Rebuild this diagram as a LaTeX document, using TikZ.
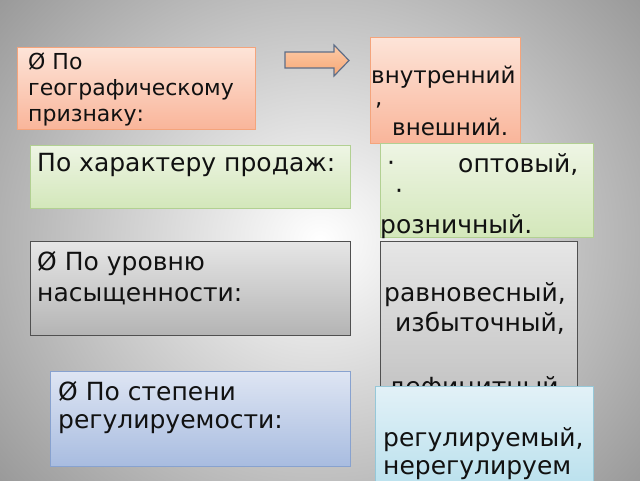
\documentclass[tikz,border=0pt]{standalone}
\usepackage{fontspec}
\setmainfont{DejaVu Sans}
\definecolor{orT}{HTML}{FDE4D8}
\definecolor{orB}{HTML}{F9B59A}
\definecolor{orD}{HTML}{F4A47C}
\definecolor{grT}{HTML}{EEF5E4}
\definecolor{grB}{HTML}{D3E7BA}
\definecolor{grD}{HTML}{B2D092}
\definecolor{gyT}{HTML}{E6E6E6}
\definecolor{gyB}{HTML}{B4B4B4}
\definecolor{gyD}{HTML}{505050}
\definecolor{blT}{HTML}{DEE5F3}
\definecolor{blB}{HTML}{A8BCE0}
\definecolor{blD}{HTML}{88A2CF}
\definecolor{cyT}{HTML}{E2F1F7}
\definecolor{cyB}{HTML}{B6DFEC}
\definecolor{cyD}{HTML}{96C8D8}
\definecolor{arT}{HTML}{FCCBA8}
\definecolor{arB}{HTML}{F7A775}
\definecolor{arD}{HTML}{5E6E88}
\definecolor{ink}{HTML}{111111}
\begin{document}
\begin{tikzpicture}[x=1pt,y=-1pt,
  box/.style={draw, line width=0.9pt, inner sep=0pt, anchor=north west},
  orbox/.style={box, draw=orD, top color=orT, bottom color=orB},
  grbox/.style={box, draw=grD, top color=grT, bottom color=grB},
  gybox/.style={box, draw=gyD, top color=gyT, bottom color=gyB},
  blbox/.style={box, draw=blD, top color=blT, bottom color=blB},
  cybox/.style={box, draw=cyD, top color=cyT, bottom color=cyB},
  txt/.style={anchor=base west, inner sep=0pt, text=ink, font=\fontsize{25}{30}\selectfont},
  mtxt/.style={txt, font=\fontsize{23}{28}\selectfont},
  stxt/.style={txt, font=\fontsize{22}{26}\selectfont}]
\useasboundingbox (0,0) rectangle (640,480);
\clip (0,0) rectangle (640,480);
\shade[inner color=white, outer color=black!42] (-120,-160) rectangle (760,640);

% geographic
\node[orbox, minimum width=238pt, minimum height=82pt] (geo) at (17,47) {};
\node[stxt] (geo1) at (28,69) {Ø По};
\node[stxt] (geo2) at (28,95) {географическому};
\node[stxt] (geo3) at (28,121) {признаку:};

\draw[arD, line width=1.2pt, top color=arT, bottom color=arB]
  (285,52) -- (334,52) -- (334,45) -- (349,60.5) -- (334,76) -- (334,68) -- (285,68) -- cycle;

\node[orbox, minimum width=150pt, minimum height=106pt] (geoR) at (370,37) {};
\node[mtxt] (geoR1) at (371,83) {внутренний};
\node[mtxt] (geoR2) at (375,105) {,};
\node[mtxt] (geoR3) at (392,135) {внешний.};

% sales
\node[grbox, minimum width=320pt, minimum height=63pt] (sal) at (30,145) {};
\node[txt] (sal1) at (37,171) {По характеру продаж:};
\node[grbox, minimum width=213pt, minimum height=94pt] (salR) at (380,143) {};
\node[txt] (salR1) at (387,171) {·};
\node[txt] (salR2) at (458,172) {оптовый,};
\node[txt] (salR3) at (395,199) {·};
\node[txt] (salR4) at (380,233) {розничный.};

% saturation
\node[gybox, minimum width=320pt, minimum height=94pt] (sat) at (30,241) {};
\node[txt] (sat1) at (37,270) {Ø По уровню};
\node[txt] (sat2) at (37,301) {насыщенности:};
\node[gybox, minimum width=197pt, minimum height=220pt] (satR) at (380,241) {};
\node[txt] (satR1) at (384,301) {равновесный,};
\node[txt] (satR2) at (395,331) {избыточный,};
\node[txt] (satR3) at (388,395) {дефицитный};

% regulation
\node[blbox, minimum width=300pt, minimum height=95pt] (reg) at (50,371) {};
\node[txt] (reg1) at (58,400) {Ø По степени};
\node[txt] (reg2) at (58,428) {регулируемости:};
\node[cybox, minimum width=218pt, minimum height=110pt] (regR) at (375,386) {};
\node[txt] (regR1) at (383,446) {регулируемый,};
\node[txt] (regR2) at (383,474) {нерегулируем};
\end{tikzpicture}
\end{document}
